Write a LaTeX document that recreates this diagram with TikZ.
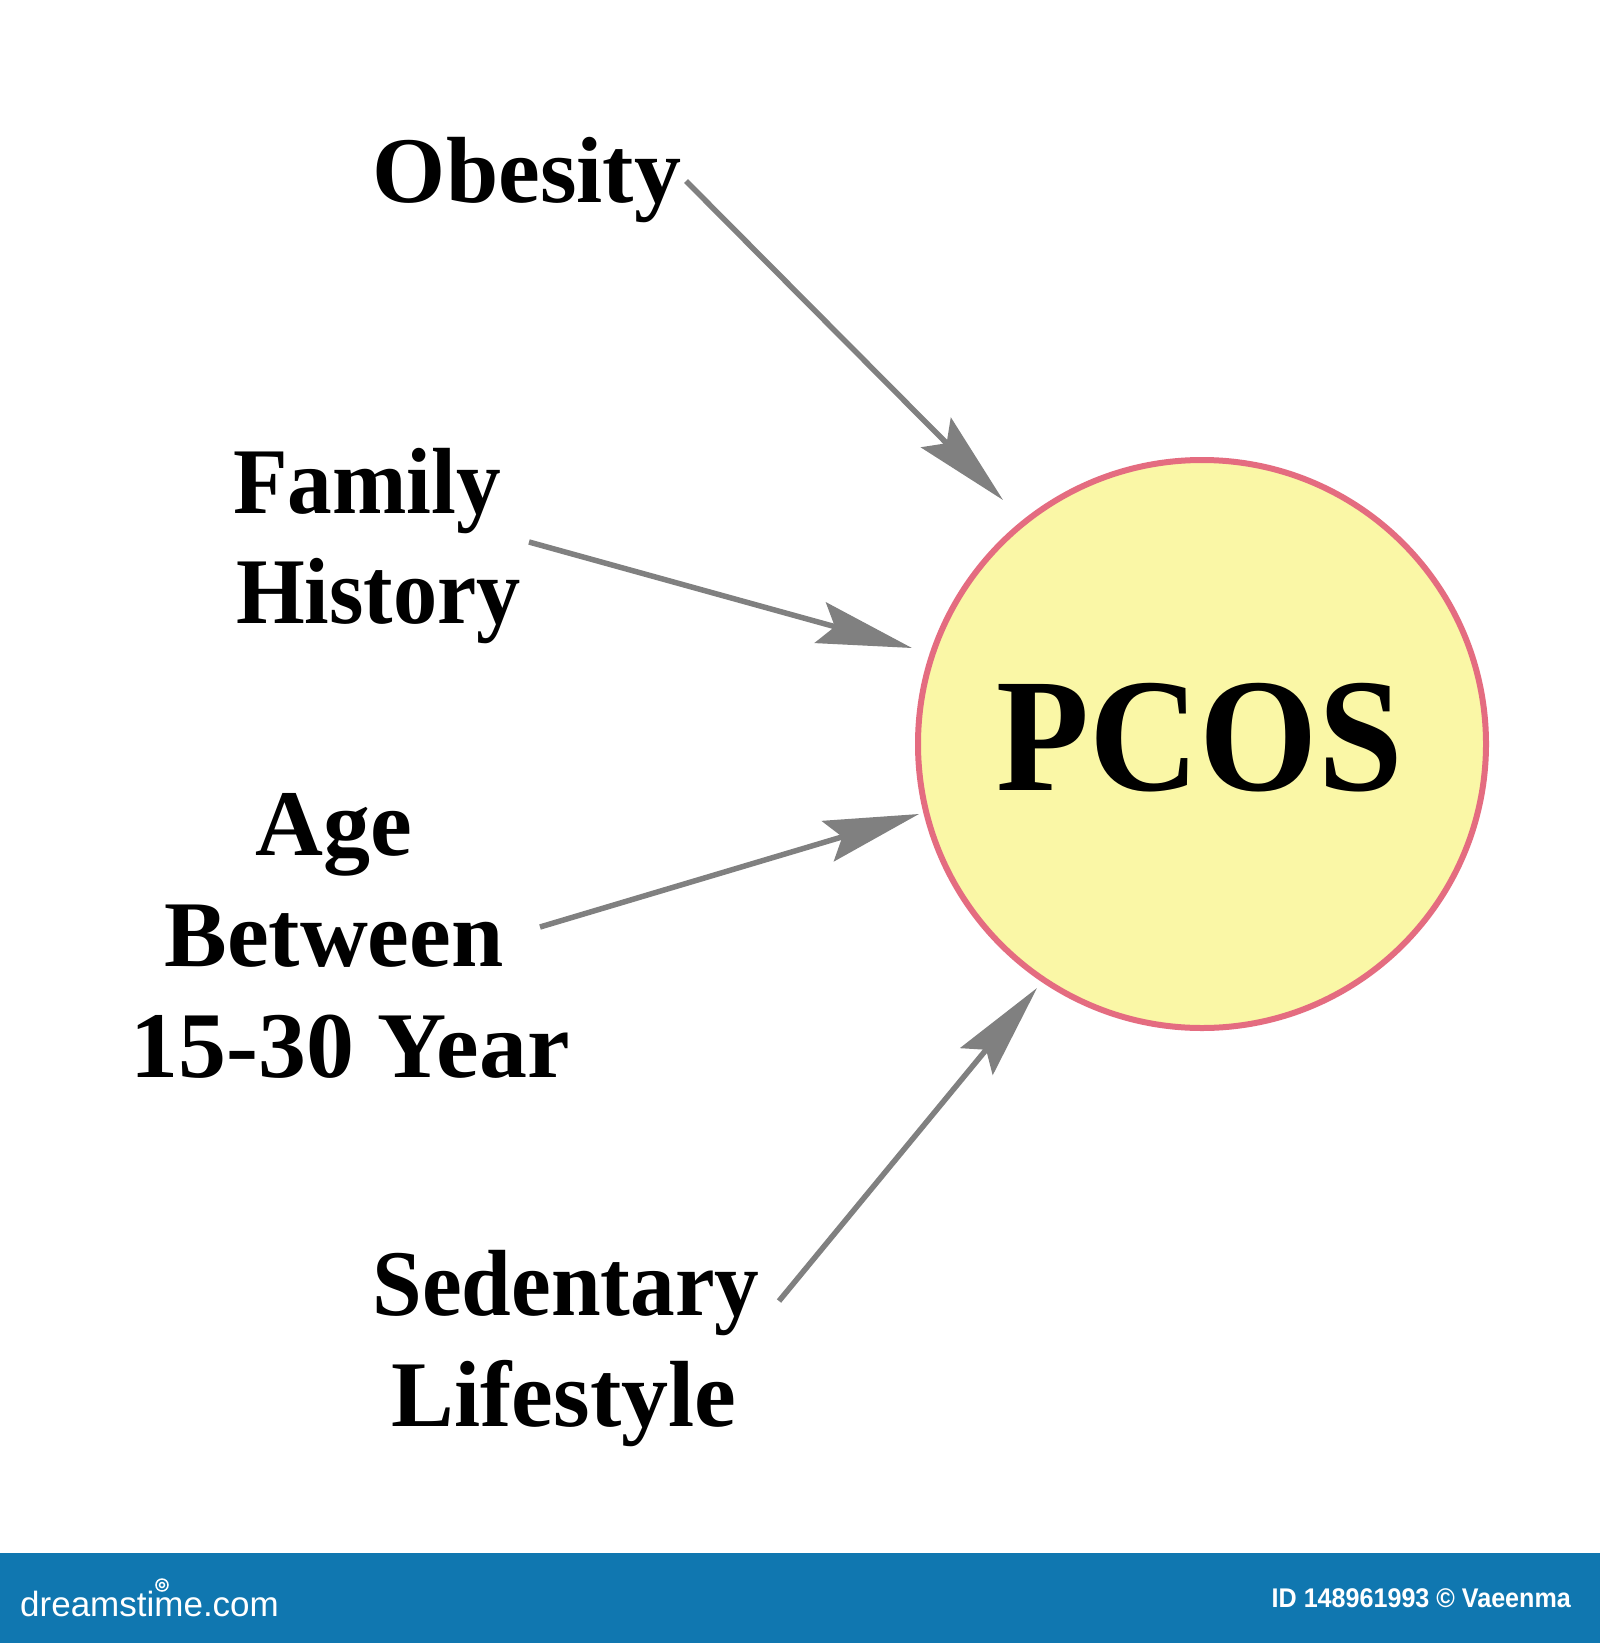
\documentclass[tikz,border=0pt]{standalone}
\usepackage{fontspec}
\setmainfont{Liberation Serif}
\newfontfamily\barfont{Liberation Sans}
\usetikzlibrary{arrows.meta}
\definecolor{arrgray}{HTML}{808080}
\definecolor{pcosfill}{HTML}{FAF7A6}
\definecolor{pcosline}{HTML}{E46C80}
\definecolor{barblue}{HTML}{1077B0}
\tikzset{
  lbl/.style={font=\fontsize{94}{112}\selectfont\bfseries, inner sep=0pt, text=black},
  factorarrow/.style={draw=arrgray, line width=5.5pt,
    -{Stealth[length=95pt, width=42pt, inset=15pt]}},
  barlbl/.style={text=white, inner sep=0pt}
}
\begin{document}
\begin{tikzpicture}[x=1pt,y=-1pt]
\useasboundingbox (0,0) rectangle (1600,1643);
\fill[white] (0,0) rectangle (1600,1643);
% central circle
\node[circle, draw=pcosline, fill=pcosfill, line width=6pt, minimum size=568pt, inner sep=0pt] (pcos) at (1202,744) {};
\node[font=\fontsize{162}{190}\selectfont\bfseries, inner sep=0pt, anchor=base, xscale=0.94] (pcostext) at (1200,790) {PCOS};
% labels
\node[lbl, anchor=base] (obesity) at (527,202) {Obesity};
\node[lbl, anchor=base west, xscale=0.95] (family) at (233,513) {Family};
\node[lbl, anchor=base west, xscale=0.94] (history) at (236,623) {History};
\node[lbl, anchor=base] (age) at (334,855) {Age};
\node[lbl, anchor=base] (between) at (334,966) {Between};
\node[lbl, anchor=base, xscale=1.02] (years) at (350,1077) {15-30 Year};
\node[lbl, anchor=base, xscale=0.95] (sedentary) at (566,1315) {Sedentary};
\node[lbl, anchor=base] (lifestyle) at (564,1426) {Lifestyle};
% arrow ends
\coordinate (s1) at (686,181);
\coordinate (e1) at (1003,500);
\coordinate (s2) at (529,542);
\coordinate (e2) at (912,648);
\coordinate (s3) at (540,927);
\coordinate (e3) at (919,814);
\coordinate (s4) at (779,1301);
\coordinate (e4) at (1037,988);
\draw[factorarrow] (s1) -- (e1);
\draw[factorarrow] (s2) -- (e2);
\draw[factorarrow] (s3) -- (e3);
\draw[factorarrow] (s4) -- (e4);
% bottom bar
\fill[barblue] (0,1553) rectangle (1600,1643);
\node[barlbl, anchor=base west, font=\barfont\fontsize{35}{40}\selectfont] (brand) at (20,1616) {dreamstime.com};
\draw[white, line width=1.5pt] (162,1585) circle (6pt) (162,1585) circle (2.5pt);
\node[barlbl, anchor=base east, font=\barfont\bfseries\fontsize{27}{32}\selectfont, xscale=0.93] (credit) at (1571,1607) {ID 148961993 © Vaeenma};
\end{tikzpicture}
\end{document}
